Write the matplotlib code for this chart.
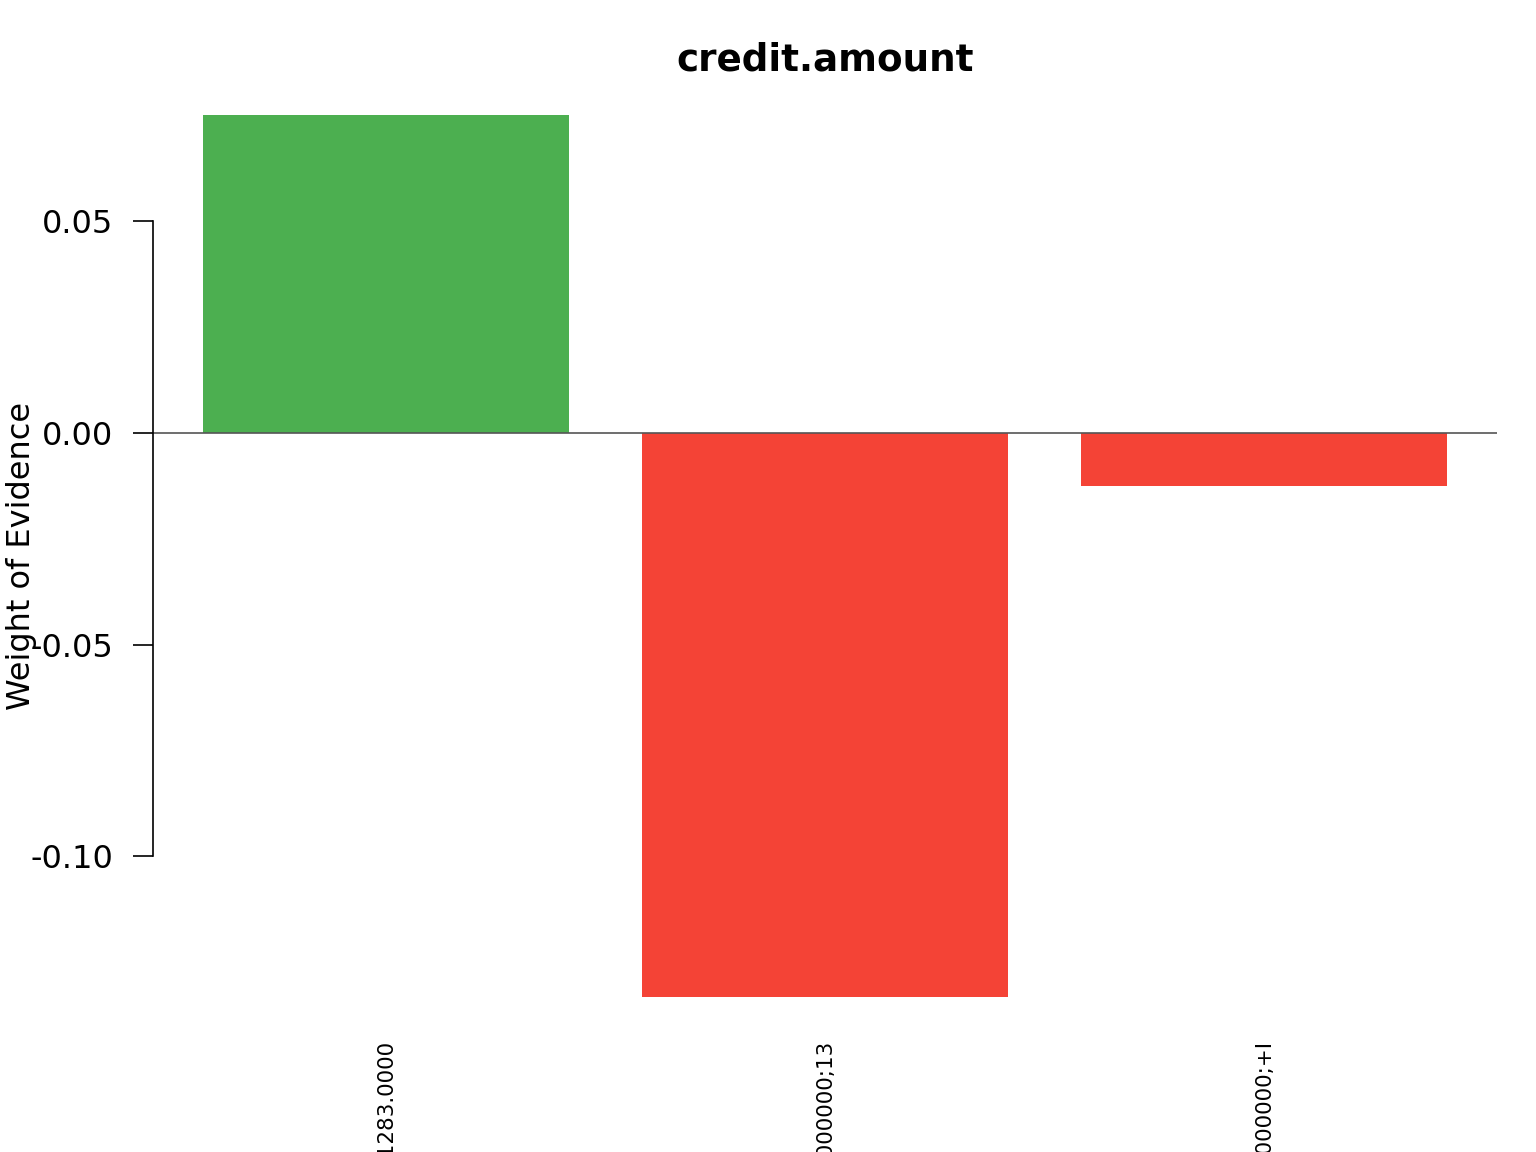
import matplotlib
matplotlib.use("Agg")
import matplotlib.pyplot as plt

# values
bins = ["[-Inf;1283.0000", "[1283.000000;13", "[3972.000000;+I"]
woe = [0.0751, -0.1332, -0.0125]
title = "credit.amount"

plt.rcParams['font.family'] = ['DejaVu Sans']

fig = plt.figure(figsize=(7.68, 5.76), dpi=200)
ax = fig.add_axes([153 / 1536, 1 - 1032 / 1152, 1344 / 1536, 952 / 1152])

pos = [0.7 + 1.2 * i for i in range(len(bins))]
colors = ['#4CAF50' if v > 0 else '#F44336' for v in woe]
ax.bar(pos, woe, width=1.0, color=colors, linewidth=0)
ax.axhline(0, color='#555555', linewidth=0.6)

# R-style limits: data range plus 4%
lo, hi = min(min(woe), 0), max(max(woe), 0)
ext = 0.04 * (hi - lo)
ax.set_ylim(lo - ext, hi + ext)
ax.set_xlim(0.2 - 0.04 * 3.4, 3.6 + 0.04 * 3.4)

for s in ['top', 'right', 'bottom']:
    ax.spines[s].set_visible(False)
ax.spines['left'].set_bounds(-0.10, 0.05)
ax.spines['left'].set_linewidth(0.6)

ax.set_yticks([0.05, 0.00, -0.05, -0.10])
ax.set_yticklabels(['0.05', '0.00', '-0.05', '-0.10'])
ax.tick_params(axis='y', direction='out', length=7.2, width=0.6, pad=7, labelsize=11.5)

ax.set_xticks(pos)
ax.set_xticklabels(bins, rotation=90, fontsize=7.7, ha='center', va='top')
ax.tick_params(axis='x', length=0, pad=2.9)

ax.set_title(title, fontsize=13.4, fontweight='bold', pad=3.5)
fig.text(22 / 1536, 1 - 556 / 1152, 'Weight of Evidence', rotation=90,
         ha='center', va='center', fontsize=11.5)

fig.savefig('out.png', dpi=200)
